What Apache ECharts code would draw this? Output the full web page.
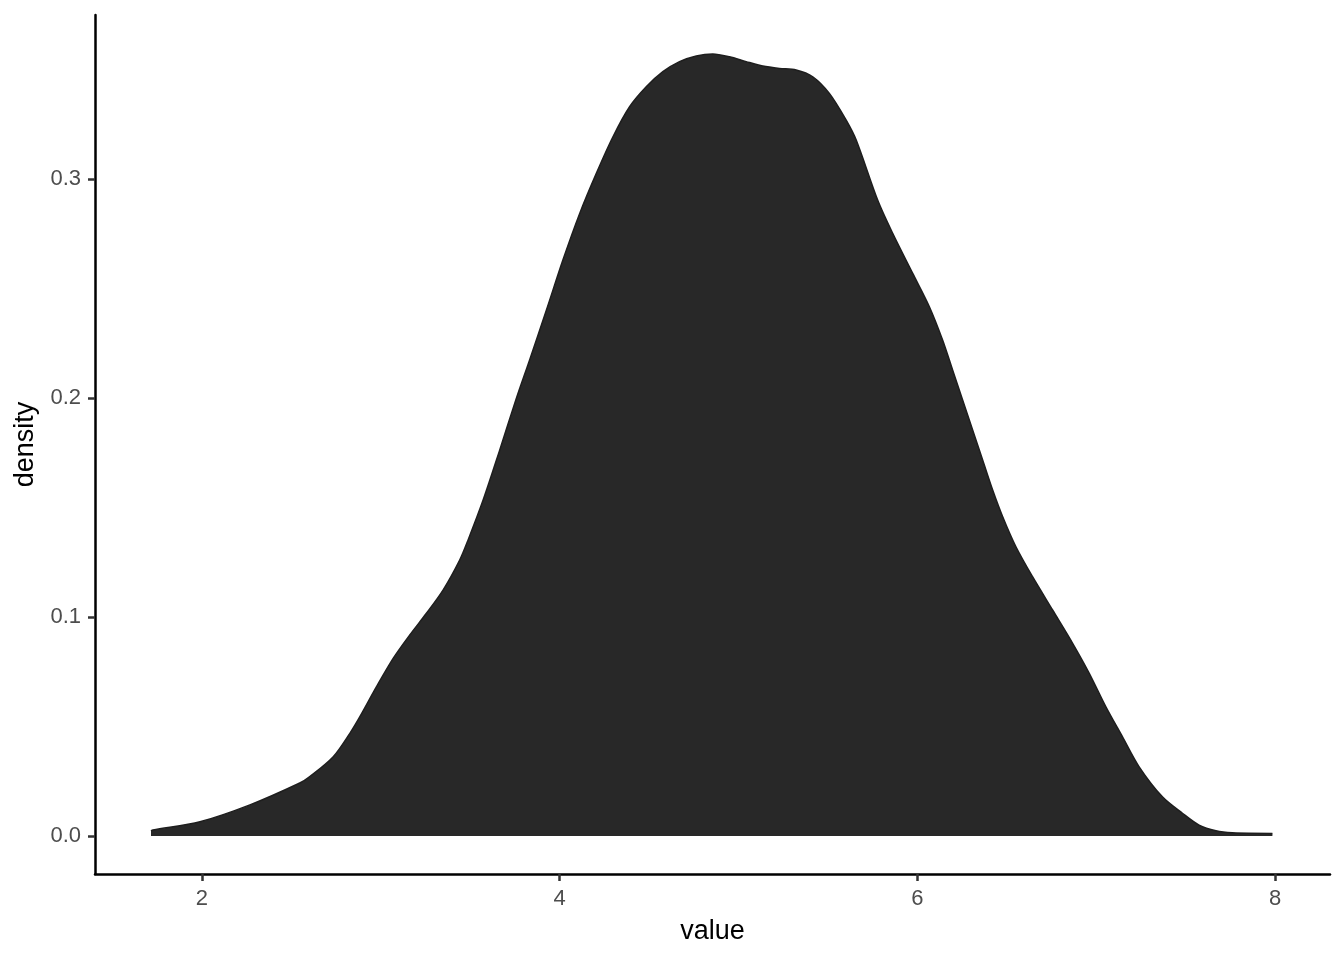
<!DOCTYPE html>
<html>
<head>
<meta charset="utf-8">
<script src="https://cdn.jsdelivr.net/npm/echarts@6/dist/echarts.min.js"></script>
<style>
html,body{margin:0;padding:0;background:#fff;}
#chart{width:1344px;height:960px;}
</style>
</head>
<body>
<div id="chart"></div>
<script>
// density curve
const xValues = [1.715, 1.726, 1.989, 2.268, 2.547, 2.603, 2.734, 2.827, 2.883, 2.976, 3.069, 3.162, 3.255, 3.348, 3.441, 3.488, 3.572, 3.665, 3.758, 3.832, 3.926, 4.018, 4.112, 4.205, 4.298, 4.391, 4.484, 4.577, 4.670, 4.764, 4.856, 4.950, 5.043, 5.136, 5.229, 5.322, 5.415, 5.508, 5.602, 5.658, 5.778, 5.862, 5.974, 6.067, 6.141, 6.197, 6.253, 6.309, 6.365, 6.421, 6.477, 6.551, 6.644, 6.756, 6.868, 6.961, 7.054, 7.147, 7.240, 7.370, 7.482, 7.575, 7.669, 7.761, 7.985];
const densityValues = [0.0023, 0.0027, 0.0065, 0.0142, 0.0242, 0.0271, 0.0362, 0.0469, 0.0545, 0.0682, 0.0811, 0.0918, 0.1017, 0.1123, 0.1260, 0.1352, 0.1534, 0.1763, 0.1999, 0.2174, 0.2402, 0.2630, 0.2843, 0.3026, 0.3193, 0.3330, 0.3421, 0.3490, 0.3536, 0.3562, 0.3571, 0.3558, 0.3536, 0.3516, 0.3505, 0.3498, 0.3467, 0.3391, 0.3269, 0.3178, 0.2904, 0.2752, 0.2569, 0.2417, 0.2265, 0.2128, 0.1991, 0.1854, 0.1717, 0.1580, 0.1458, 0.1321, 0.1184, 0.1032, 0.0880, 0.0743, 0.0590, 0.0453, 0.0316, 0.0179, 0.0104, 0.0050, 0.0024, 0.0015, 0.0012];
const xTicks = [2, 4, 6, 8];
const yTicks = [0, 0.1, 0.2, 0.3];
const xTitle = 'value';
const yTitle = 'density';

const seriesData = xValues.map((x, i) => [x, densityValues[i]]);
const font = '"Liberation Sans", Arial, Helvetica, sans-serif';

const chart = echarts.init(document.getElementById('chart'), null, {renderer: 'canvas'});
chart.setOption({
  animation: false,
  backgroundColor: '#ffffff',
  grid: {left: 95, right: 14, top: 15, bottom: 86, containLabel: false},
  xAxis: {
    type: 'value',
    min: 1.402, max: 8.307,
    name: xTitle,
    nameLocation: 'middle',
    nameGap: 44,
    nameTextStyle: {color: '#000', fontSize: 27, fontFamily: font},
    axisLine: {show: true, onZero: false, lineStyle: {color: '#000', width: 2.5}},
    axisTick: {show: true, length: 7, customValues: xTicks, lineStyle: {color: '#333', width: 2.5}},
    axisLabel: {show: true, margin: 14, customValues: xTicks, color: '#4d4d4d', fontSize: 22, fontFamily: font},
    splitLine: {show: false}
  },
  yAxis: {
    type: 'value',
    min: -0.01735, max: 0.3749,
    name: yTitle,
    nameLocation: 'middle',
    nameGap: 55,
    nameRotate: 90,
    nameTextStyle: {color: '#000', fontSize: 27, fontFamily: font},
    axisLine: {show: true, onZero: false, lineStyle: {color: '#000', width: 2.5}},
    axisTick: {show: true, length: 7, customValues: yTicks, lineStyle: {color: '#333', width: 2.5}},
    axisLabel: {show: true, margin: 14, customValues: yTicks, color: '#4d4d4d', fontSize: 22, fontFamily: font,
      formatter: v => Number(v).toFixed(1)},
    splitLine: {show: false}
  },
  series: [{
    type: 'line',
    data: seriesData,
    smooth: 0.3,
    showSymbol: false,
    lineStyle: {color: '#1e1e1e', width: 1.5},
    areaStyle: {color: '#282828', opacity: 1, origin: 0}
  }]
});
</script>
</body>
</html>
